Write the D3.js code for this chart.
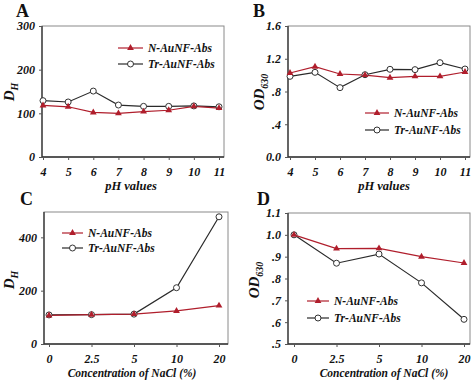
<!DOCTYPE html>
<html><head><meta charset="utf-8">
<script src="https://cdn.jsdelivr.net/npm/d3@7"></script>
<style>
html,body{margin:0;padding:0;background:#fff;}
</style></head>
<body><svg id="c" width="474" height="381"></svg>
<script>
// ---- data ----
const phValues = [4, 5, 6, 7, 8, 9, 10, 11];
const naclLabels = ["0", "2.5", "5", "10", "20"];
const seriesNames = ["N-AuNF-Abs", "Tr-AuNF-Abs"];

const dhPH_N  = [118, 115, 102, 100, 104, 107, 116, 112];
const dhPH_Tr = [129, 126, 151, 119, 116, 116, 117, 115];

const odPH_N  = [1.026, 1.103, 1.014, 1.000, 0.969, 0.985, 0.985, 1.038];
const odPH_Tr = [0.985, 1.034, 0.847, 1.005, 1.071, 1.067, 1.152, 1.075];

const dhNaCl_N  = [107, 110, 112, 124, 144];
const dhNaCl_Tr = [109, 110, 112, 211, 477];

const odNaCl_N  = [1.000, 0.937, 0.938, 0.900, 0.871];
const odNaCl_Tr = [1.000, 0.870, 0.912, 0.780, 0.613];

const ticksA = [0, 100, 200, 300];
const ticksB = [0, 0.4, 0.8, 1.2, 1.6];
const tickLabelsB = ["0.0", ".4", ".8", "1.2", "1.6"];
const ticksC = [0, 200, 400];
const ticksD = [0.5, 0.6, 0.7, 0.8, 0.9, 1.0, 1.1];
const tickLabelsD = [".5", ".6", ".7", ".8", ".9", "1.0", "1.1"];

// ---- drawing ----
const FONT = "Liberation Serif, serif";
const RED = "#b01e2c", DARK = "#2a2a2a";
const svg = d3.select("#c");

function styleText(sel, size, italic) {
  sel.attr("font-family", FONT).style("font-family", FONT).style("font-weight", "bold")
    .style("font-style", italic === false ? "normal" : "italic")
    .style("font-size", size + "px").style("fill", "#111");
  return sel;
}

function panel(o) {
  const g = svg.append("g");
  const x = o.x, y = o.y;
  g.append("rect").attr("x", o.box[0]).attr("y", o.box[2])
    .attr("width", o.box[1] - o.box[0]).attr("height", o.box[3] - o.box[2])
    .attr("fill", "none").attr("stroke", "#8a8a8a").attr("stroke-width", 1);
  const xa = d3.axisBottom(x).tickSize(3).tickFormat((d, i) => o.xLabels[i]).tickValues(o.xVals);
  const gx = g.append("g").attr("transform", `translate(0,${o.box[3]})`).call(xa);
  gx.select(".domain").attr("d", `M${o.box[0]},0H${o.box[1]}`);
  const ya = d3.axisLeft(y).tickSize(3).tickValues(o.yTicks).tickFormat((d, i) => o.yLabels[i]);
  const gy = g.append("g").attr("transform", `translate(${o.box[0]},0)`).call(ya);
  gy.select(".domain").attr("d", `M0,${o.box[2]}V${o.box[3]}`);
  [gx, gy].forEach(a => {
    a.attr("font-family", FONT);
    a.selectAll(".domain").attr("stroke", "#333").attr("stroke-width", 1.3);
    a.selectAll(".tick line").attr("stroke", "#555");
    styleText(a.selectAll("text"), 12);
  });
  gx.selectAll("text").attr("dy", "1.1em");
  gy.selectAll("text").attr("x", -7);

  const line = d3.line().x((d, i) => x(o.xVals[i])).y(d => y(d));
  const sets = [{v: o.tr, c: DARK, m: "circle"}, {v: o.n, c: RED, m: "tri"}];
  sets.forEach(s => {
    g.append("path").attr("d", line(s.v)).attr("fill", "none").attr("stroke", s.c).attr("stroke-width", 1.2);
  });
  sets.forEach(s => {
    s.v.forEach((d, i) => marker(g, s.m, x(o.xVals[i]), y(d)));
  });
  const L = o.legend;
  [[seriesNames[0], RED, "tri"], [seriesNames[1], DARK, "circle"]].forEach((e, i) => {
    const ly = L.y + i * L.dy;
    g.append("line").attr("x1", L.x).attr("x2", L.x + L.w).attr("y1", ly).attr("y2", ly)
      .attr("stroke", e[1]).attr("stroke-width", 1.2);
    marker(g, e[2], L.x + L.w / 2, ly);
    styleText(g.append("text").attr("x", L.x + L.w + 5).attr("y", ly + 4).text(e[0]), 11.5);
  });
  styleText(g.append("text").attr("x", o.lx).attr("y", o.ly).text(o.letter), 18, false);
  styleText(g.append("text").attr("x", o.xt[0]).attr("y", o.xt[1]).attr("text-anchor", "middle")
    .text(o.xTitle), o.xtSize);
  const yt = styleText(g.append("text").attr("transform", `translate(${o.yt[0]},${o.yt[1]}) rotate(-90)`)
    .attr("text-anchor", "middle"), 15);
  yt.append("tspan").text(o.yTitle[0]);
  yt.append("tspan").style("font-size", "10px").attr("dy", 4).text(o.yTitle[1]);
}

function marker(g, type, cx, cy) {
  if (type === "circle") {
    g.append("circle").attr("cx", cx).attr("cy", cy).attr("r", 3)
      .attr("fill", "#fff").attr("stroke", "#333").attr("stroke-width", 1);
  } else {
    g.append("path").attr("d", d3.symbol(d3.symbolTriangle, 20)())
      .attr("transform", `translate(${cx},${cy})`).attr("fill", RED);
  }
}

panel({
  box: [42, 224, 26, 157],
  x: d3.scaleLinear().domain([4, 11]).range([43, 219]),
  y: d3.scaleLinear().domain([0, 300]).range([157, 26]),
  xVals: phValues, xLabels: phValues.map(String),
  yTicks: ticksA, yLabels: ticksA.map(String),
  n: dhPH_N, tr: dhPH_Tr,
  legend: {x: 118, w: 25, y: 48, dy: 16},
  letter: "A", lx: 16, ly: 17,
  xTitle: "pH values", xt: [131, 190], xtSize: 12.5,
  yTitle: ["D", "H"], yt: [14, 92]
});
panel({
  box: [288, 470, 26, 157],
  x: d3.scaleLinear().domain([4, 11]).range([290, 465]),
  y: d3.scaleLinear().domain([0, 1.6]).range([157, 26]),
  xVals: phValues, xLabels: phValues.map(String),
  yTicks: ticksB, yLabels: tickLabelsB,
  n: odPH_N, tr: odPH_Tr,
  legend: {x: 365, w: 24, y: 113, dy: 17},
  letter: "B", lx: 253, ly: 17,
  xTitle: "pH values", xt: [384, 190], xtSize: 12.5,
  yTitle: ["OD", "630"], yt: [264, 92]
});
const xC = d3.scalePoint().domain(naclLabels).range([49, 219]);
panel({
  box: [44, 228, 212, 344],
  x: xC,
  y: d3.scaleLinear().domain([0, 495]).range([344, 212]),
  xVals: naclLabels, xLabels: naclLabels,
  yTicks: ticksC, yLabels: ticksC.map(String),
  n: dhNaCl_N, tr: dhNaCl_Tr,
  legend: {x: 62, w: 21, y: 233, dy: 15},
  letter: "C", lx: 20, ly: 205,
  xTitle: "Concentration of NaCl (%)", xt: [132, 377], xtSize: 11.5,
  yTitle: ["D", "H"], yt: [14, 280]
});
const xD = d3.scalePoint().domain(naclLabels).range([294, 464]);
panel({
  box: [288, 470, 213, 344],
  x: xD,
  y: d3.scaleLinear().domain([0.5, 1.1]).range([344, 213]),
  xVals: naclLabels, xLabels: naclLabels,
  yTicks: ticksD, yLabels: tickLabelsD,
  n: odNaCl_N, tr: odNaCl_Tr,
  legend: {x: 307, w: 22, y: 301, dy: 17},
  letter: "D", lx: 257, ly: 205,
  xTitle: "Concentration of NaCl (%)", xt: [384, 377], xtSize: 11.5,
  yTitle: ["OD", "630"], yt: [259, 280]
});
</script></body></html>
